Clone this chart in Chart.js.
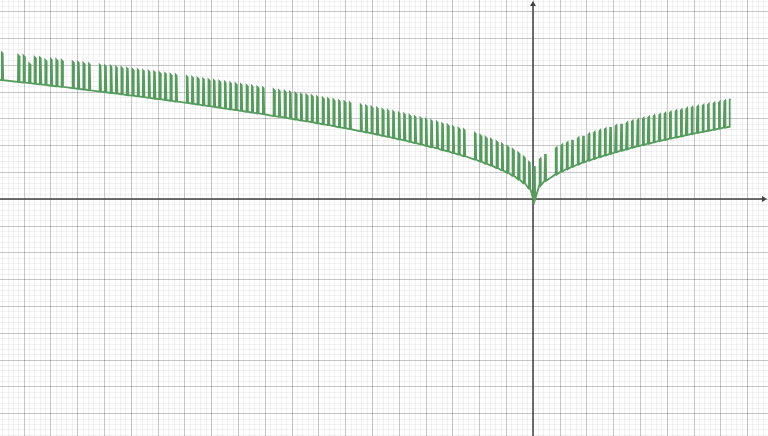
<!DOCTYPE html>
<html>
<head>
<meta charset="utf-8">
<script src="https://cdn.jsdelivr.net/npm/chart.js@4"></script>
<style>
  html, body { margin: 0; padding: 0; background: #fff; }
  #wrap { width: 768px; height: 436px; }
</style>
</head>
<body>
<div id="wrap"><canvas id="myChart"></canvas></div>
<script>
// teeth left of the y axis: x position, bottom of the tooth, top of the tooth
let leftX = [-19.83, -19.22, -19.02, -18.81, -18.61, -18.41, -18.21, -18.00, -17.80, -17.60,
    -17.19, -16.99, -16.79, -16.58, -16.18, -15.98, -15.77, -15.57, -15.37, -15.16,
    -14.96, -14.76, -14.56, -14.35, -14.15, -13.95, -13.74, -13.54, -13.34, -12.93,
    -12.73, -12.53, -12.32, -12.12, -11.92, -11.72, -11.51, -11.31, -11.11, -10.91,
    -10.70, -10.50, -10.30, -10.09, -9.69, -9.49, -9.28, -9.08, -8.88, -8.67,
    -8.47, -8.27, -8.07, -7.86, -7.66, -7.46, -7.25, -7.05, -6.85, -6.44,
    -6.24, -6.04, -5.83, -5.63, -5.43, -5.23, -5.02, -4.82, -4.62, -4.42,
    -4.21, -4.01, -3.81, -3.60, -3.40, -3.20, -3.00, -2.79, -2.59, -2.18,
    -1.98, -1.78, -1.58, -1.37, -1.17, -0.97, -0.77, -0.56, -0.36, -0.16]
let leftLow = [4.45, 4.38, 4.36, 4.34, 4.31, 4.29, 4.27, 4.24, 4.22, 4.20,
    4.15, 4.12, 4.10, 4.07, 4.02, 4.00, 3.97, 3.95, 3.92, 3.89,
    3.87, 3.84, 3.82, 3.79, 3.76, 3.74, 3.71, 3.68, 3.65, 3.60,
    3.57, 3.54, 3.51, 3.48, 3.45, 3.42, 3.39, 3.36, 3.33, 3.30,
    3.27, 3.24, 3.21, 3.18, 3.11, 3.08, 3.05, 3.01, 2.98, 2.94,
    2.91, 2.88, 2.84, 2.80, 2.77, 2.73, 2.69, 2.66, 2.62, 2.54,
    2.50, 2.46, 2.42, 2.37, 2.33, 2.29, 2.24, 2.20, 2.15, 2.10,
    2.05, 2.00, 1.95, 1.90, 1.84, 1.79, 1.73, 1.67, 1.61, 1.48,
    1.41, 1.33, 1.26, 1.17, 1.08, 0.99, 0.88, 0.75, 0.60, 0.40]
let leftHigh = [5.47, 5.38, 5.36, 5.07, 5.31, 5.29, 5.20, 5.24, 5.22, 5.19,
    5.14, 5.12, 5.09, 5.06, 5.02, 4.99, 4.97, 4.94, 4.92, 4.89,
    4.86, 4.84, 4.81, 4.78, 4.76, 4.73, 4.70, 4.67, 4.65, 4.59,
    4.56, 4.53, 4.50, 4.47, 4.44, 4.41, 4.38, 4.35, 4.32, 4.29,
    4.26, 4.23, 4.20, 4.17, 4.10, 4.07, 4.04, 4.00, 3.97, 3.93,
    3.90, 3.87, 3.83, 3.79, 3.76, 3.72, 3.68, 3.65, 3.61, 3.53,
    3.49, 3.45, 3.41, 3.36, 3.32, 3.28, 3.23, 3.19, 3.14, 3.09,
    3.04, 2.99, 2.94, 2.89, 2.83, 2.78, 2.72, 2.66, 2.60, 2.47,
    2.40, 2.32, 2.25, 2.16, 2.07, 1.98, 1.87, 1.74, 1.59, 1.39]

// teeth right of the y axis
let rightX = [0.06, 0.27, 0.47, 0.87, 1.08, 1.28, 1.48, 1.69, 1.89, 2.09,
    2.29, 2.50, 2.70, 2.90, 3.10, 3.31, 3.51, 3.71, 3.92, 4.12,
    4.32, 4.52, 4.73, 4.93, 5.13, 5.34, 5.54, 5.74, 5.94, 6.15,
    6.35, 6.55, 6.76, 6.96, 7.16, 7.36]
let rightLow = [0.00, 0.52, 0.69, 0.93, 1.04, 1.13, 1.22, 1.30, 1.38, 1.45,
    1.51, 1.58, 1.64, 1.70, 1.76, 1.82, 1.87, 1.93, 1.98, 2.03,
    2.08, 2.13, 2.18, 2.22, 2.27, 2.31, 2.35, 2.40, 2.44, 2.48,
    2.52, 2.56, 2.60, 2.64, 2.68, 2.71]
let rightHigh = [1.24, 1.52, 1.69, 1.93, 2.04, 2.13, 2.22, 2.30, 2.37, 2.45,
    2.51, 2.58, 2.64, 2.70, 2.76, 2.82, 2.87, 2.93, 2.98, 3.03,
    3.08, 3.13, 3.17, 3.22, 3.26, 3.31, 3.35, 3.40, 3.44, 3.48,
    3.52, 3.56, 3.60, 3.64, 3.68, 3.75]

let xMin = -19.9, xMax = 8.76
let yMin = -8.83, yMax = 7.44

// build the polyline: each tooth is a narrow bar from the bottom to the top
let points = [{x: xMin, y: 4.46}]
leftX.forEach((x, i) => {
    points.push({x: x - 0.01, y: leftLow[i]})
    points.push({x: x, y: leftHigh[i]})
    points.push({x: x + 0.03, y: leftHigh[i] - 0.03})
    points.push({x: x + 0.05, y: leftLow[i]})
})
points.push({x: 0, y: 0})
rightX.forEach((x, i) => {
    points.push({x: x - 0.05, y: rightLow[i]})
    points.push({x: x - 0.03, y: rightHigh[i] - 0.03})
    points.push({x: x, y: rightHigh[i]})
    if (i < rightX.length - 1) points.push({x: x + 0.01, y: rightLow[i]})
})

let gridColor = ctx => {
    let v = ctx.tick.value
    if (Math.abs(v - Math.round(v)) < 1e-6) return 'rgba(0,0,0,0.22)'
    return 'rgba(0,0,0,0.05)'
}

// the two axes with their arrow heads, under the curve
let axes = {
    id: 'axes',
    beforeDatasetsDraw(chart) {
        let c = chart.ctx
        let a = chart.chartArea
        let x0 = Math.round(chart.scales.x.getPixelForValue(0))
        let y0 = Math.round(chart.scales.y.getPixelForValue(0))
        c.save()
        c.strokeStyle = '#444'
        c.fillStyle = '#444'
        c.lineWidth = 1.5
        c.beginPath()
        c.moveTo(x0, a.bottom)
        c.lineTo(x0, 4)
        c.moveTo(a.left, y0)
        c.lineTo(764, y0)
        c.stroke()
        c.beginPath()
        c.moveTo(x0, 1)
        c.lineTo(x0 - 3, 6)
        c.lineTo(x0 + 3, 6)
        c.closePath()
        c.fill()
        c.beginPath()
        c.moveTo(767, y0)
        c.lineTo(762, y0 - 3)
        c.lineTo(762, y0 + 3)
        c.closePath()
        c.fill()
        c.restore()
    }
}

var ctx = document.getElementById('myChart').getContext('2d');
var chart = new Chart(ctx, {
    type: 'scatter',
    data: {
        datasets: [{
            data: points,
            showLine: true,
            borderColor: 'rgb(84, 156, 92)',
            borderWidth: 1.8,
            pointRadius: 0,
            tension: 0
        }]
    },
    options: {
        responsive: true,
        maintainAspectRatio: false,
        animation: false,
        layout: {padding: 0},
        plugins: {legend: {display: false}, tooltip: {enabled: false}},
        scales: {
            x: {
                type: 'linear', min: xMin, max: xMax,
                border: {display: false},
                grid: {color: gridColor, drawTicks: false},
                ticks: {display: false, stepSize: 0.2, includeBounds: false, padding: 0}
            },
            y: {
                type: 'linear', min: yMin, max: yMax,
                border: {display: false},
                grid: {color: gridColor, drawTicks: false},
                ticks: {display: false, stepSize: 0.2, includeBounds: false, padding: 0}
            }
        }
    },
    plugins: [axes]
});
</script>
</body>
</html>
